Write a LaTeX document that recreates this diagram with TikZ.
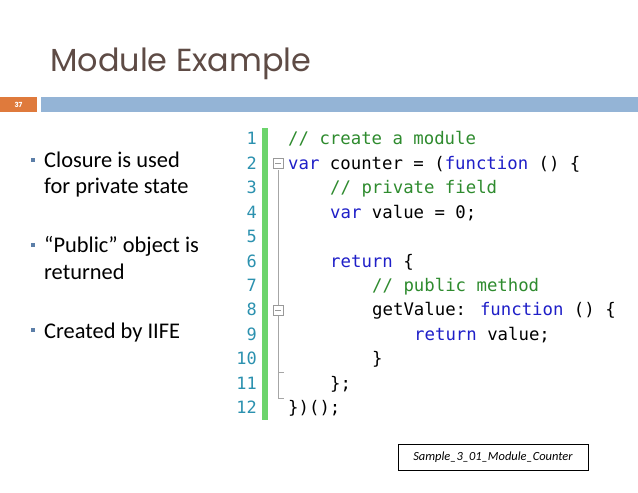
\documentclass[tikz,border=0pt]{standalone}
\usepackage{fontspec}
\setmainfont{Poppins}
\newfontfamily\bodyf{Carlito}
\newfontfamily\codef{DejaVu Sans Mono}
\definecolor{ttl}{HTML}{5E4B45}
\definecolor{org}{HTML}{DF7A3C}
\definecolor{bar}{HTML}{94B4D6}
\definecolor{cmt}{HTML}{2E8B2E}
\definecolor{kw}{HTML}{1F1FC8}
\definecolor{lnum}{HTML}{2B91AF}
\definecolor{gbar}{HTML}{6CD46C}
\definecolor{bul}{HTML}{5C7FA8}
\begin{document}
\begin{tikzpicture}[x=1bp,y=-1bp,
  ln/.style={anchor=base east,text=lnum,font=\codef\fontsize{17}{17}\selectfont,inner sep=0},
  cd/.style={anchor=base west,font=\codef\fontsize{17.4}{17.4}\selectfont,inner sep=0},
  bt/.style={anchor=base west,font=\bodyf\fontsize{22.5}{22.5}\selectfont,inner sep=0},
  bu/.style={fill=bul,minimum size=4bp,inner sep=0}]
\useasboundingbox (0,0) rectangle (638,493);
\fill[white] (0,0) rectangle (638,493);
\node[anchor=base west,inner sep=0,text=ttl,font=\fontsize{32}{32}\selectfont] (title) at (50,72) {Module Example};
\fill[org] (0,97) rectangle (37,112);
\node[text=white,font=\bfseries\fontsize{7}{7}\selectfont] (num) at (18.5,104.5) {37};
\fill[bar] (41,97) rectangle (638,112);
% bullets
\node[bu] (b1) at (33,160) {};
\node[bt] (t1) at (44,168) {Closure is used};
\node[bt] (t1b) at (44,194) {for private state};
\node[bu] (b2) at (33,245) {};
\node[bt] (t2) at (44,253) {“Public” object is};
\node[bt] (t2b) at (44,279) {returned};
\node[bu] (b3) at (33,330) {};
\node[bt] (t3) at (44,338) {Created by IIFE};
% code
\fill[gbar] (262,128) rectangle (268,420);
\draw[gray!70] (278,170) -- (278,372) -- (284,372);
\draw[gray!70] (278,322) -- (278,398) -- (284,398);
\draw[gray!80,fill=white] (273,158) rectangle (283,168);
\draw[gray!80] (275,163) -- (281,163);
\draw[gray!80,fill=white] (273,305) rectangle (283,315);
\draw[gray!80] (275,310) -- (281,310);
\foreach \i in {1,...,12} {\node[ln] (n\i) at (257,{145+24.4*(\i-1)}) {\i};}
\node[cd,text=cmt] (c1) at (288,145) {// create a module};
\node[cd] (c2) at (288,169.4) {\textcolor{kw}{var} counter = (\textcolor{kw}{function} () \{};
\node[cd,text=cmt] (c3) at (330,193.8) {// private field};
\node[cd] (c4) at (330,218.2) {\textcolor{kw}{var} value = 0;};
\node[cd] (c6) at (330,267) {\textcolor{kw}{return} \{};
\node[cd,text=cmt] (c7) at (372,291.4) {// public method};
\node[cd] (c8) at (372,315.8) {getValue: \textcolor{kw}{function} () \{};
\node[cd] (c9) at (414,340.2) {\textcolor{kw}{return} value;};
\node[cd] (c10) at (372,364.6) {\}};
\node[cd] (c11) at (330,389) {\};};
\node[cd] (c12) at (288,413.4) {\})();};
% sample box
\node[draw=black,line width=0.6bp,minimum width=190bp,minimum height=26bp,font=\bodyf\itshape\fontsize{12.5}{12.5}\selectfont] (sample) at (493,457) {Sample\_3\_01\_Module\_Counter};
\end{tikzpicture}
\end{document}
